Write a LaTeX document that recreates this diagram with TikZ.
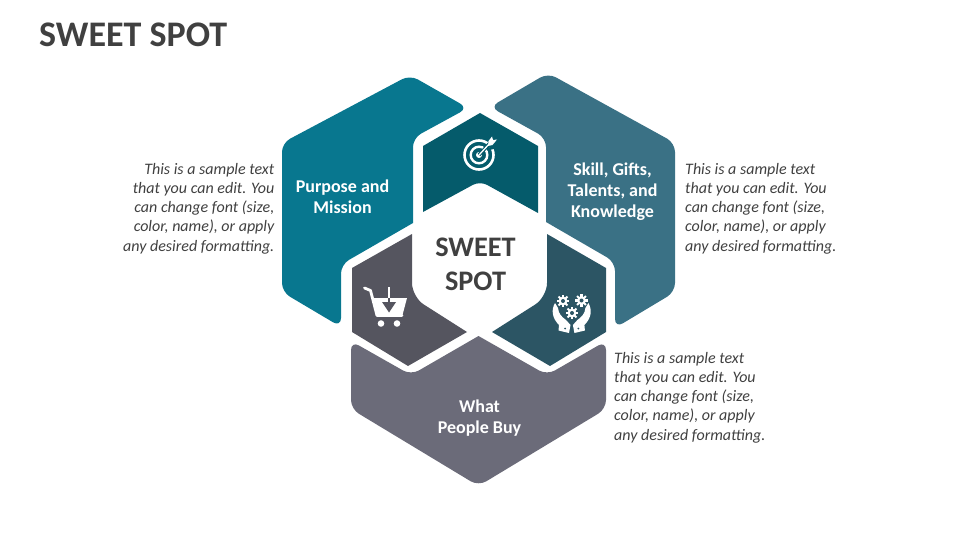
\documentclass[tikz,border=0pt]{standalone}
\usepackage{fontspec}
\setmainfont{Carlito}
\definecolor{tealA}{HTML}{08778F}
\definecolor{tealB}{HTML}{3A7185}
\definecolor{greyC}{HTML}{6B6B79}
\definecolor{tealD}{HTML}{055B6B}
\definecolor{tealE}{HTML}{2C5564}
\definecolor{greyF}{HTML}{55555F}
\definecolor{inkT}{HTML}{404040}
\tikzset{
  x=1pt,y=-1pt,
  bodytext/.style={font=\fontsize{16}{19.3}\selectfont\itshape,text=inkT,inner sep=0pt},
  labeltext/.style={font=\fontsize{18}{21}\selectfont\bfseries,text=white,align=center,inner sep=0pt},
  gearicon/.pic={
    \fill[white] (0,0) circle (4.4);
    \foreach \a in {0,45,...,315}{\draw[white,line width=2.1pt] (\a:3.5) -- (\a:6.2);}
    \fill[tealE] (0,0) circle (2);
  }
}
\begin{document}
\begin{tikzpicture}
\useasboundingbox (0,0) rectangle (960,540);
% outer shapes
\fill[tealA,rounded corners=9pt] (410,75) -- (468,108) -- (413,138) [sharp corners] -- (413,223) [rounded corners=9pt] -- (341,264.5) -- (341,327) -- (282,292) -- (282,143) -- cycle;
\fill[tealB,rounded corners=9pt] (548,73) -- (490,107) -- (546,138) [sharp corners] -- (546,222) [rounded corners=9pt] -- (615,262) -- (615,328) -- (675,292) -- (675,143) -- cycle;
\fill[greyC] (478.5,336) [rounded corners=9pt] -- (411,375) -- (351,341) -- (351,409) -- (478.5,486) -- (606,409) -- (606,341) -- (547,375) [sharp corners] -- cycle;
% inner shapes
\path[fill=tealD] (480,113) -- (538,146) -- (538,213) [rounded corners=8pt] -- (480,181) [sharp corners] -- (423,212) -- (423,146) -- cycle;
\path[fill=greyF] (412,234) -- (352,268) -- (352,332) -- (408,366) -- (467,332) [rounded corners=14pt] -- (412,297) [sharp corners] -- (412,270) -- cycle;
\path[fill=tealE] (547,234) -- (606,268) -- (606,332) -- (550,366) -- (492,332) [rounded corners=14pt] -- (547,297) [sharp corners] -- (547,270) -- cycle;
% target icon
\draw[white,line width=2.6pt] (479,155) circle (14.5);
\draw[white,line width=2.4pt] (479,155) circle (8.3);
\fill[white] (479,155) circle (3);
\draw[tealD,line width=3.5pt] (479,155) -- (490,143);
\draw[white,line width=1.3pt] (479,155) -- (490,143);
\fill[tealD] (487,138) -- (498,134) -- (500,147) -- (490,150) -- cycle;
\fill[white] (488,146) -- (488.5,141) -- (492,136.5) -- (493,140) -- (497,139.5) -- (492.5,145) -- cycle;
% cart icon
\draw[white,line width=2.8pt,line join=round,line cap=round] (364.5,288) -- (370.5,290.5) -- (377,315.5) -- (402,315.5);
\fill[white] (372,298) -- (407,298) -- (402.5,315) -- (377,315) -- cycle;
\draw[white,line width=1.4pt] (389,287) -- (389,298);
\draw[greyF,line width=2.4pt] (389,298) -- (389,306);
\fill[greyF] (382,302) -- (396,302) -- (389,312.5) -- cycle;
\fill[white] (381,323.5) circle (3.3) (397,323.5) circle (3.3);
% gears and hands icon
\pic at (563,301) {gearicon};
\pic at (581.5,300.5) {gearicon};
\pic at (572,313) {gearicon};
\fill[white] (555,303) .. controls (551,310) and (552,318) .. (559,325) -- (558.5,330.5) -- (569,333) -- (570.5,325) -- (566,320) .. controls (562,317) and (558.5,314) .. (558,308) -- cycle;
\fill[tealE] (565,328.5) circle (1);
\fill[white] (588.4,303) .. controls (592.4,310) and (591.4,318) .. (584.4,325) -- (584.9,330.5) -- (574.4,333) -- (572.9,325) -- (577.4,320) .. controls (581.4,317) and (584.9,314) .. (585.4,308) -- cycle;
\fill[tealE] (578.4,328.5) circle (1);
% texts
\node[anchor=west,inner sep=0pt,text=inkT,font=\fontsize{36}{38}\selectfont\bfseries] (title) at (39,34.5) {SWEET SPOT};
\node[text=inkT,font=\fontsize{28.3}{34}\selectfont\bfseries,align=center,inner sep=0pt] (centre) at (475.5,264) {SWEET\\SPOT};
\node[labeltext] (lblA) at (342.5,197) {Purpose and\\Mission};
\node[labeltext] (lblB) at (612.5,192) {Skill, Gifts,\\Talents, and\\Knowledge};
\node[labeltext] (lblC) at (479.5,418) {What\\People Buy};
\node[bodytext,align=right,anchor=east] (txtA) at (274.5,208.5) {This is a sample text\\that you can edit. You\\can change font (size,\\color, name), or apply\\any desired formatting.};
\node[bodytext,align=left,anchor=west] (txtB) at (685,208.5) {This is a sample text\\that you can edit. You\\can change font (size,\\color, name), or apply\\any desired formatting.};
\node[bodytext,align=left,anchor=west] (txtC) at (614,397.5) {This is a sample text\\that you can edit. You\\can change font (size,\\color, name), or apply\\any desired formatting.};
\end{tikzpicture}
\end{document}
